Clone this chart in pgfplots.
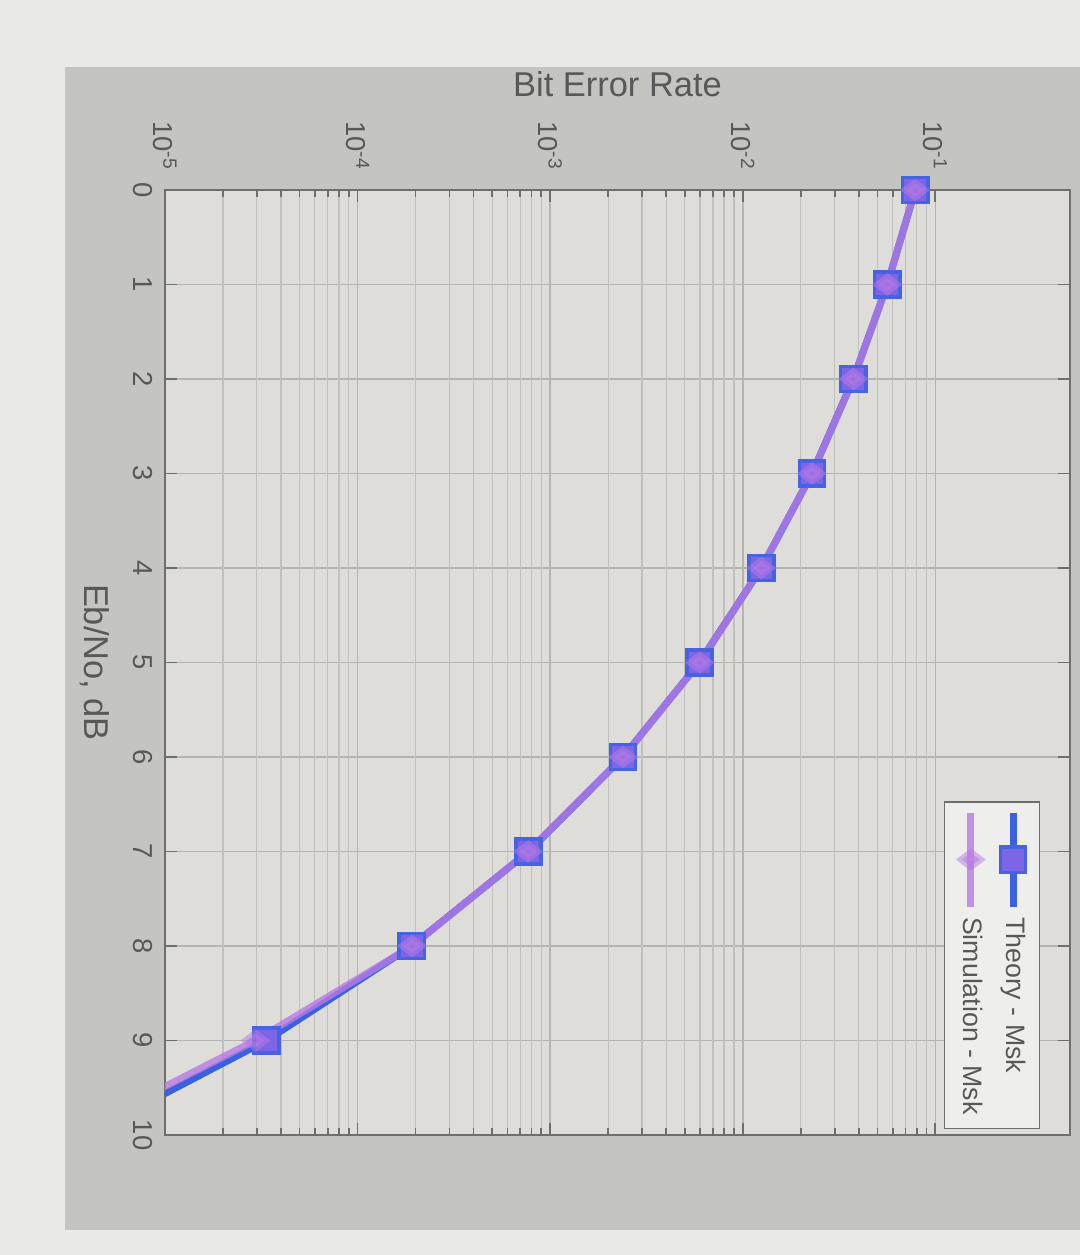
\documentclass[border=0pt]{standalone}
\usepackage{fontspec}
\setmainfont{Liberation Sans}
\usepackage{pgfplots}
\pgfplotsset{compat=1.18}
\definecolor{paper}{HTML}{E9E9E6}
\definecolor{figgray}{HTML}{C4C4C0}
\definecolor{plotfill}{HTML}{DEDDD9}
\definecolor{txt}{HTML}{585858}
\definecolor{axc}{HTML}{6E6E6E}
\definecolor{gridc}{HTML}{B4B4B0}
\definecolor{theory}{HTML}{3A62E0}
\definecolor{sqfill}{HTML}{7C66E6}
\definecolor{simc}{HTML}{B87AE4}
\begin{document}
\begin{tikzpicture}
\fill[paper] (-1.65,-10.65) rectangle (9.15,1.90);
\fill[figgray] (-1.00,-10.40) rectangle (9.15,1.23);
\begin{scope}[rotate=-90, transform shape]
\begin{axis}[
  at={(0,0)}, anchor=south west,
  scale only axis, width=9.45cm, height=9.05cm,
  ymode=log, ymin=1e-5, ymax=0.5,
  xmin=0, xmax=10,
  ytick={1e-5,1e-4,1e-3,1e-2,1e-1},
  yticklabels={10\textsuperscript{-5},10\textsuperscript{-4},10\textsuperscript{-3},10\textsuperscript{-2},10\textsuperscript{-1}},
  xtick={0,1,...,10},
  /pgf/number format/assume math mode=true,
  axis background/.style={fill=plotfill},
  axis line style={axc, line width=0.5pt},
  tick style={axc, line width=0.5pt},
  major tick length=0.12cm, minor tick length=0.07cm,
  grid=both,
  major grid style={gridc, line width=0.45pt},
  minor grid style={gridc!70!plotfill, line width=0.35pt},
  minor x tick num=0,
  ticklabel style={font=\fontsize{7.8}{9}\selectfont, text=txt},
  yticklabel style={xshift=-0.07cm},
  xlabel={Eb/No, dB},
  ylabel={Bit Error Rate},
  label style={font=\fontsize{9.8}{11}\selectfont, text=txt},
  legend style={at={(axis description cs:0.994,0.967)}, anchor=north east,
    draw=axc, fill=plotfill!50!white, text=txt,
    font=\fontsize{7.6}{9}\selectfont, inner sep=2pt, row sep=1pt},
  legend cell align=left,
  legend image code/.code={\draw[mark repeat=2,mark phase=2] plot coordinates {(0cm,0cm) (0.47cm,0cm) (0.94cm,0cm)};},
]
\addplot[theory, line width=2pt, mark=square*, mark size=3.6pt, mark options={fill=sqfill, draw=theory!80!sqfill, line width=1pt}]
  coordinates {
  (0,7.865e-2) (1,5.628e-2) (2,3.751e-2) (3,2.288e-2) (4,1.250e-2) (5,5.954e-3)
  (6,2.388e-3) (7,7.727e-4) (8,1.909e-4) (9,3.363e-5) (10,3.872e-6)};
\addlegendentry{Theory - Msk}
\addplot[simc, line width=2pt, opacity=0.8, mark=diamond*, mark size=2.6pt, mark options={fill=simc, draw=simc, opacity=0.5}]
  coordinates {
  (0,7.85e-2) (1,5.63e-2) (2,3.76e-2) (3,2.29e-2) (4,1.248e-2) (5,5.97e-3)
  (6,2.39e-3) (7,7.70e-4) (8,1.92e-4) (9,2.95e-5) (10,3.20e-6)};
\addlegendentry{Simulation - Msk}
\end{axis}
\end{scope}
\end{tikzpicture}
\end{document}
